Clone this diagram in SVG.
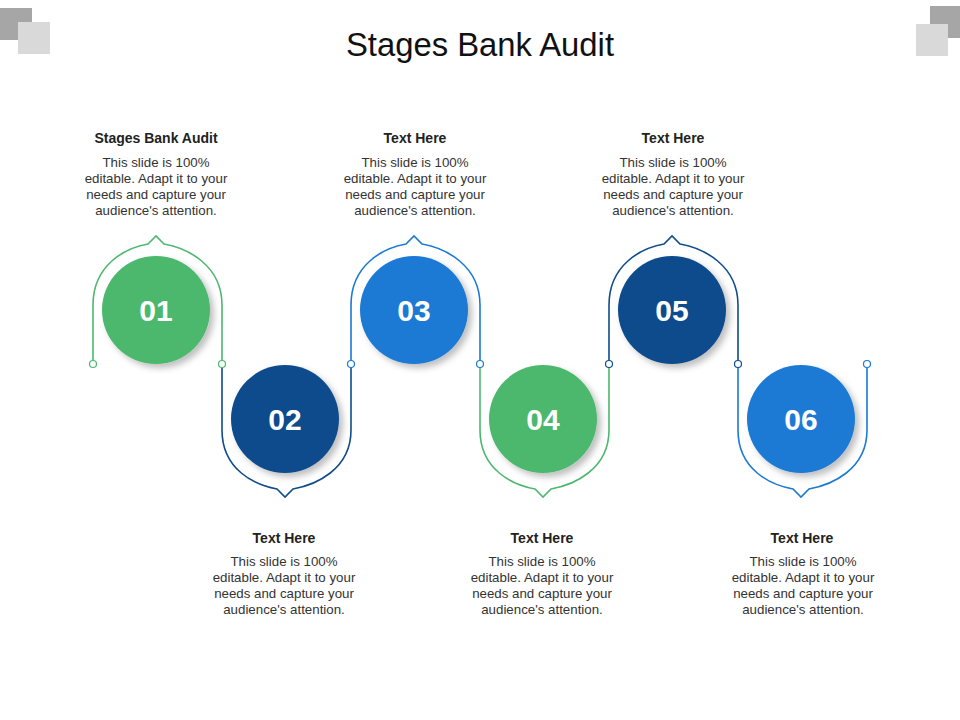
<svg xmlns="http://www.w3.org/2000/svg" width="960" height="720" viewBox="0 0 960 720">
<defs>
<filter id="sh" x="-30%" y="-30%" width="160%" height="160%"><feDropShadow dx="4" dy="4" stdDeviation="3" flood-color="#000" flood-opacity="0.25"/></filter>
</defs>
<style>
.h{font-family:"Liberation Sans Narrow","Liberation Sans",Arial,sans-serif;font-weight:bold;font-size:14px;fill:#222;text-anchor:middle}
.b{font-family:"Liberation Sans",Arial,sans-serif;font-size:13.3px;fill:#333;text-anchor:middle}
.n{font-family:"Liberation Sans",Arial,sans-serif;font-weight:bold;font-size:30px;fill:#fff;text-anchor:middle}
.w{fill:none;stroke-width:1.6}
.d{fill:#fff;stroke-width:1.2}
</style>
<rect width="960" height="720" fill="#fff"/>
<rect x="0" y="8" width="32" height="32" fill="#a6a6a6"/>
<rect x="18" y="22" width="32" height="32" fill="#d9d9d9"/>
<rect x="930" y="6" width="30" height="32" fill="#a6a6a6"/>
<rect x="916" y="24" width="32" height="32" fill="#d9d9d9"/>
<text x="480" y="56" font-family="'Liberation Sans Narrow','Liberation Sans',Arial,sans-serif" font-size="34" fill="#111" text-anchor="middle" textLength="268" lengthAdjust="spacingAndGlyphs">Stages Bank Audit</text>
<g id="connectors">
<path class="w" stroke="#4cb86e" d="M93,364 V305 C93,265 125,248 148,244 L156,236 L164,244 C187,248 222,265 222,305 V364"/>
<path class="w" stroke="#0f4c8c" d="M222,364 V430 C222,470 255,485 277,489 L285,497 L293,489 C315,485 351,470 351,430 V364"/>
<path class="w" stroke="#1a7ad4" d="M351,364 V305 C351,265 383,248 406,244 L414,236 L422,244 C445,248 480,265 480,305 V364"/>
<path class="w" stroke="#4cb86e" d="M480,364 V430 C480,470 513,485 535,489 L543,497 L551,489 C573,485 609,470 609,430 V364"/>
<path class="w" stroke="#0f4c8c" d="M609,364 V305 C609,265 641,248 664,244 L672,236 L680,244 C703,248 738,265 738,305 V364"/>
<path class="w" stroke="#1a7ad4" d="M738,364 V430 C738,470 771,485 793,489 L801,497 L809,489 C831,485 867,470 867,430 V364"/>
<circle class="d" stroke="#4cb86e" cx="93" cy="364" r="3.5"/>
<circle class="d" stroke="#4cb86e" cx="222" cy="364" r="3.5"/>
<circle class="d" stroke="#1a7ad4" cx="351" cy="364" r="3.5"/>
<circle class="d" stroke="#1a7ad4" cx="480" cy="364" r="3.5"/>
<circle class="d" stroke="#0f4c8c" cx="609" cy="364" r="3.5"/>
<circle class="d" stroke="#0f4c8c" cx="738" cy="364" r="3.5"/>
<circle class="d" stroke="#1a7ad4" cx="867" cy="364" r="3.5"/>
</g>
<g id="n1"><circle cx="156" cy="310" r="54" fill="#4cb86e" filter="url(#sh)"/><text class="n" x="156" y="321">01</text>
<text class="h" x="156" y="143">Stages Bank Audit</text>
<text class="b" x="156" y="167">This slide is 100%</text><text class="b" x="156" y="183">editable. Adapt it to your</text><text class="b" x="156" y="199">needs and capture your</text><text class="b" x="156" y="215">audience's attention.</text></g>
<g id="n2"><circle cx="285" cy="419" r="54" fill="#0f4c8c" filter="url(#sh)"/><text class="n" x="285" y="430">02</text>
<text class="h" x="284" y="543">Text Here</text>
<text class="b" x="284" y="566">This slide is 100%</text><text class="b" x="284" y="582">editable. Adapt it to your</text><text class="b" x="284" y="598">needs and capture your</text><text class="b" x="284" y="614">audience's attention.</text></g>
<g id="n3"><circle cx="414" cy="310" r="54" fill="#1a7ad4" filter="url(#sh)"/><text class="n" x="414" y="321">03</text>
<text class="h" x="415" y="143">Text Here</text>
<text class="b" x="415" y="167">This slide is 100%</text><text class="b" x="415" y="183">editable. Adapt it to your</text><text class="b" x="415" y="199">needs and capture your</text><text class="b" x="415" y="215">audience's attention.</text></g>
<g id="n4"><circle cx="543" cy="419" r="54" fill="#4cb86e" filter="url(#sh)"/><text class="n" x="543" y="430">04</text>
<text class="h" x="542" y="543">Text Here</text>
<text class="b" x="542" y="566">This slide is 100%</text><text class="b" x="542" y="582">editable. Adapt it to your</text><text class="b" x="542" y="598">needs and capture your</text><text class="b" x="542" y="614">audience's attention.</text></g>
<g id="n5"><circle cx="672" cy="310" r="54" fill="#0f4c8c" filter="url(#sh)"/><text class="n" x="672" y="321">05</text>
<text class="h" x="673" y="143">Text Here</text>
<text class="b" x="673" y="167">This slide is 100%</text><text class="b" x="673" y="183">editable. Adapt it to your</text><text class="b" x="673" y="199">needs and capture your</text><text class="b" x="673" y="215">audience's attention.</text></g>
<g id="n6"><circle cx="801" cy="419" r="54" fill="#1a7ad4" filter="url(#sh)"/><text class="n" x="801" y="430">06</text>
<text class="h" x="802" y="543">Text Here</text>
<text class="b" x="803" y="566">This slide is 100%</text><text class="b" x="803" y="582">editable. Adapt it to your</text><text class="b" x="803" y="598">needs and capture your</text><text class="b" x="803" y="614">audience's attention.</text></g>
</svg>
